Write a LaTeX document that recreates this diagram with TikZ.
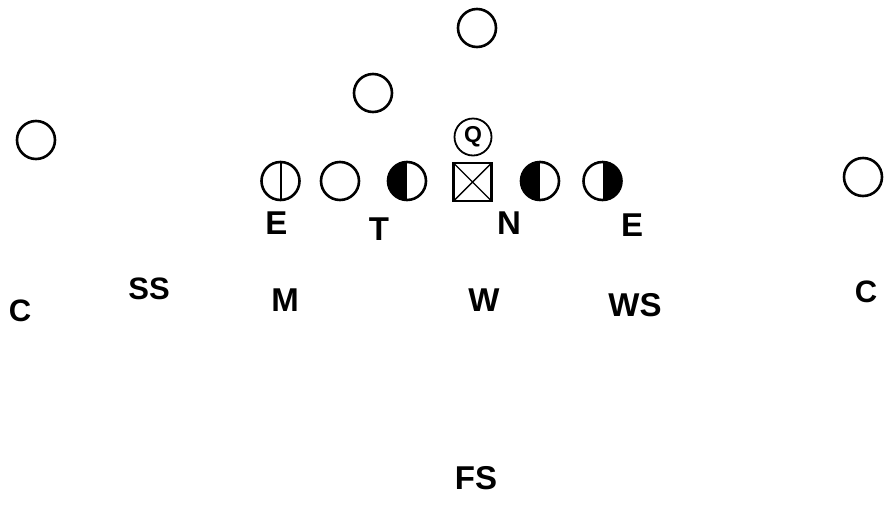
\documentclass[tikz,border=0pt]{standalone}
\usepackage{fontspec}
\setmainfont{Liberation Sans}
\begin{document}
\begin{tikzpicture}[x=1pt,y=-1pt,
  player/.style={circle,draw,line width=2.6pt,minimum size=38pt,inner sep=0pt},
  halfleft/.style={player,path picture={\fill (path picture bounding box.north) rectangle (path picture bounding box.south west);}},
  halfright/.style={player,path picture={\fill (path picture bounding box.north) rectangle (path picture bounding box.south east);}},
  splitline/.style={player,path picture={\draw[line width=2pt] (path picture bounding box.north) -- (path picture bounding box.south);}},
  centerbox/.style={rectangle,draw,line width=2.6pt,minimum size=38pt,inner sep=0pt,
    path picture={\draw[line width=1.4pt] (path picture bounding box.north west) -- (path picture bounding box.south east)
      (path picture bounding box.north east) -- (path picture bounding box.south west);}},
  qb/.style={circle,draw,line width=1.8pt,minimum size=37pt,inner sep=0pt,font=\bfseries\fontsize{23}{28}\selectfont},
  lbl/.style={inner sep=0pt,font=\bfseries\fontsize{33}{40}\selectfont},
  lbls/.style={inner sep=0pt,font=\bfseries\fontsize{31}{37}\selectfont}]
\useasboundingbox[fill=white] (0,0) rectangle (892,507);
% offense
\node[player] (wr1) at (477,28) {};
\node[player] (rb) at (373,93) {};
\node[player] (wrl) at (36,140) {};
\node[player] (wrr) at (863,177) {};
\node[qb] (q) at (473,137) {Q};
\node[splitline] (te) at (280.5,181) {};
\node[player] (lt) at (340,181) {};
\node[halfleft] (lg) at (407,181) {};
\node[centerbox] (ctr) at (472.5,182) {};
\node[halfleft] (rg) at (540,181) {};
\node[halfright] (rt) at (602.5,181) {};
% defense
\node[lbl] (de1) at (276.5,223) {E};
\node[lbl] (dt) at (379,229.5) {T};
\node[lbl] (nt) at (509,223) {N};
\node[lbl] (de2) at (632,225) {E};
\node[lbls] (cl) at (20,311) {C};
\node[lbls] (ss) at (149,289) {SS};
\node[lbl] (mlb) at (285,300) {M};
\node[lbl] (wlb) at (484,300) {W};
\node[lbl] (ws) at (635,305) {WS};
\node[lbls] (cr) at (866,292) {C};
\node[lbl] (fs) at (476,478.5) {FS};
\end{tikzpicture}
\end{document}
